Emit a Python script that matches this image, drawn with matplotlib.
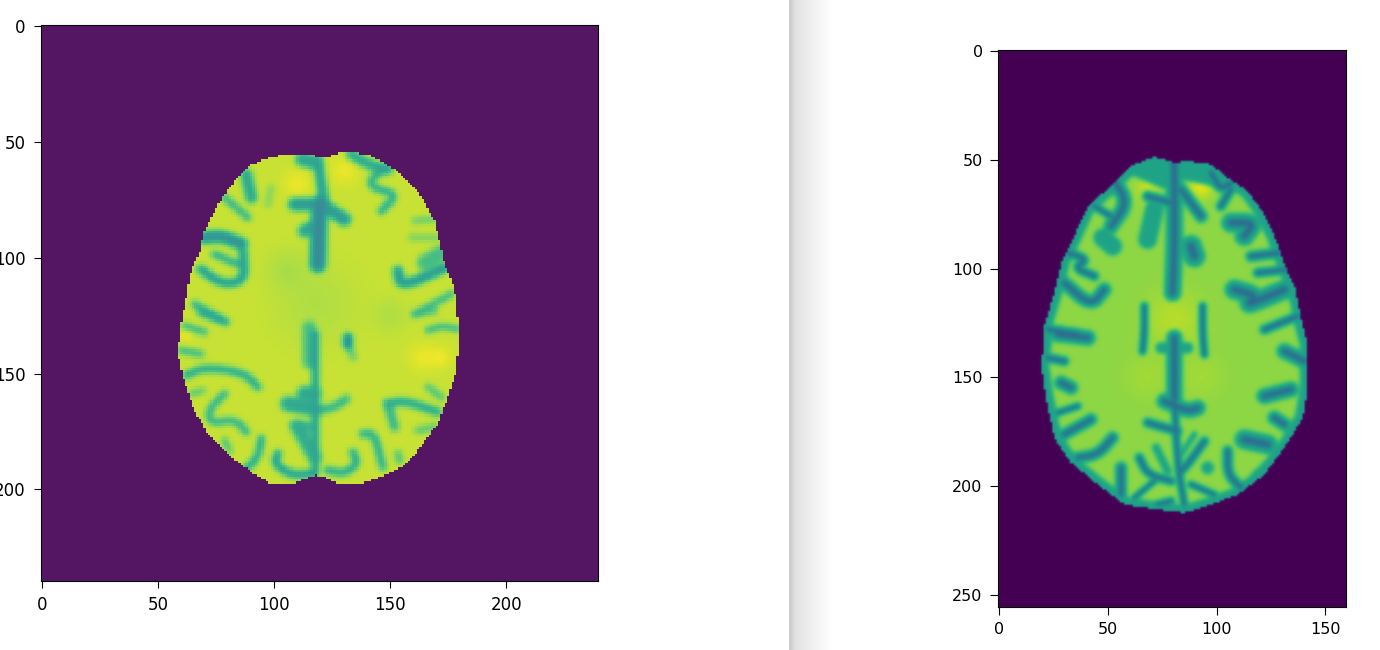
import matplotlib
matplotlib.use("Agg")
import matplotlib.pyplot as plt
import numpy as np
from matplotlib.path import Path

# (col, row)
left_outline = [(121.7, 56.8), (130.3, 53.9), (141.8, 56.1), (153.3, 62.5), (161.9, 71.2), (169.1, 84.1),
                (173.4, 102.8), (177.7, 112.8), (179.2, 127.2), (179.9, 132.9), (178.4, 148.7), (176.3, 155.8),
                (170.5, 171.6), (161.9, 183.1), (154.7, 190.3), (147.6, 193.9), (137.5, 197.5), (127.4, 197.8),
                (121.7, 194.2), (117.4, 193.9), (108, 197.5), (98.7, 197.5), (90.1, 192.5), (81.5, 186),
                (71.4, 176), (64.9, 164.5), (60.6, 151.5), (58.5, 141.5), (59.9, 128.5), (62, 117.1),
                (64.2, 105.6), (67.8, 98.4), (70, 88.4), (75.7, 76.9), (82.9, 66.8), (90.1, 59.7),
                (100.1, 56.1), (110.2, 55.3), (118.8, 56.1)]
right_outline = [(71.4, 48.6), (80.6, 51.4), (86.7, 50.6), (97.5, 52.1), (105.1, 58.3), (114.3, 64.4),
                 (120.4, 72.8), (126.6, 85.1), (132.7, 101.9), (135.8, 108), (139.6, 126.4), (141.9, 134.8),
                 (141.9, 154.7), (139.6, 168.5), (131.2, 182.3), (122, 194.6), (109.7, 203.8), (97.5, 208.4),
                 (85.2, 212.2), (72.9, 210.7), (57.6, 208.4), (45.4, 199.2), (33.1, 189.2), (25.4, 177.7),
                 (21.6, 159.3), (19.3, 144), (20.8, 133.3), (20.8, 126.4), (25.4, 111.1), (29.3, 95.8),
                 (34.6, 85.1), (40.8, 71.3), (51.5, 62.1), (60.7, 52.9)]

# (line through the fold, half width, level)
left_folds = [
    ([(118.8, 58.2), (121.7, 76.9)], 1.7, 0.52), ([(112, 57.5), (118, 59)], 2.5, 0.55),
    ([(119.5, 76.9), (118.8, 102.8)], 3.0, 0.44), ([(108.8, 76.9), (120.3, 76.9), (130.3, 83.4)], 2.3, 0.5),
    ([(113, 88.4), (118.8, 85.5)], 2.3, 0.53),
    ([(90.1, 74), (87.9, 64)], 2.0, 0.55), ([(78.6, 74), (88.6, 82.6)], 0.9, 0.55),
    ([(70, 91.3), (77.2, 90.5), (85.8, 94.1)], 2.2, 0.47), ([(74.3, 98.4), (84.3, 102.8)], 0.9, 0.52),
    ([(68.5, 104.9), (77.2, 111.4), (87.2, 110), (86.5, 98)], 1.3, 0.48), ([(65.7, 120), (77.2, 126.5)], 0.9, 0.52),
    ([(133.2, 55.3), (140.4, 59.7), (149, 61.8)], 1.7, 0.55),
    ([(149, 61), (141.8, 65.4), (141.8, 69.7), (153.3, 72.6), (146.1, 79.8)], 1.0, 0.52),
    ([(160.5, 84), (169, 83.4)], 0.6, 0.66), ([(159, 91.3), (170.5, 91.3)], 0.6, 0.7), ([(97.3, 76.9), (98.7, 69.7)], 1.0, 0.78),
    ([(153.3, 105.6), (154.7, 112.8), (173.4, 104.2)], 1.6, 0.48), ([(165, 102), (172, 98)], 3.0, 0.66),
    ([(160.5, 124.3), (176.3, 115.7)], 0.8, 0.55),
    ([(68.5, 123.5), (79.3, 127.8)], 1.0, 0.5), ([(61.3, 129.3), (70, 132.1)], 0.8, 0.56), ([(59.9, 140), (68.5, 141.5)], 0.8, 0.56),
    ([(62, 150.8), (70, 147.2), (86.5, 149.4), (93, 155.8)], 1.0, 0.5), ([(64.2, 158.7), (69.2, 157.3)], 0.6, 0.62),
    ([(78.6, 158.7), (71.4, 165.9), (72.8, 171.6), (82.9, 169.5), (87.9, 175.2)], 0.9, 0.53),
    ([(78.6, 178.8), (80.7, 183.1)], 0.7, 0.6), ([(94.4, 178.1), (93, 186), (87.9, 191)], 1.0, 0.5),
    ([(101.6, 184.6), (100.1, 188.9), (107.3, 193.9), (115.9, 193.2)], 1.1, 0.46),
    ([(115, 130), (115, 145)], 2.4, 0.66), ([(117.7, 132.9), (117.7, 193.2)], 0.9, 0.42),
    ([(105.9, 163), (117.4, 165.2)], 2.8, 0.56), ([(113, 158.7), (117, 158.7)], 2.8, 0.56),
    ([(118.8, 165.9), (126, 164.5), (131, 160.9)], 1.2, 0.58),
    ([(110.2, 173.1), (117.4, 186)], 2.6, 0.58), ([(108.8, 172.4), (116, 173.1)], 1.6, 0.58),
    ([(133.9, 142.9), (133, 140)], 0.8, 0.66), ([(131.7, 134.5), (131.7, 137.5)], 1.3, 0.34),
    ([(123.1, 191.8), (130.3, 193.2), (136, 188.9), (133.9, 183.9)], 1.0, 0.5),
    ([(138.2, 176), (143.2, 176), (146.8, 190.3)], 1.1, 0.54), ([(153.3, 184.6), (154, 187.5)], 0.9, 0.62),
    ([(149, 163), (156.2, 161.6), (170.5, 166.6)], 1.2, 0.52), ([(149, 163), (151.9, 173.1)], 1.3, 0.58),
    ([(161.9, 174.5), (169.1, 173.1)], 0.9, 0.66), ([(166.2, 155.8), (172, 160.2)], 0.8, 0.62),
    ([(166.2, 131.4), (172, 129.3), (179.2, 130.7)], 0.7, 0.54), ([(161.2, 124.2), (169.1, 122.8)], 0.7, 0.6),
]
left_bright = [(130.3, 62.5, 4), (164, 143, 4), (172, 143, 3), (110, 68, 4), (62, 133, 2)]
left_dim = [(118, 120, 12), (105, 105, 6), (150, 125, 5)]

right_folds = [
    ([(80.6, 51.4), (80.6, 74.3), (80.6, 89.7), (79.8, 111.1)], 4.0, True),
    ([(53, 59.8), (59.1, 69.7), (51.5, 80.5)], 3.5, True), ([(43.8, 71.3), (51.5, 75.9)], 2.0, True),
    ([(71.4, 72.8), (68.3, 86.6)], 4.2, False), ([(68.3, 66.7), (79, 69.7)], 2.6, True),
    ([(88.3, 89.7), (89.8, 94.3)], 5.0, True), ([(83.7, 63.6), (92.9, 75.9)], 3.0, True),
    ([(62, 52), (76, 58)], 5.0, False), ([(84, 55), (98, 58)], 4.0, False),
    ([(47.7, 85.8), (52.2, 89.7)], 4.2, False), ([(31.6, 92.7), (40.8, 95.8), (34.6, 99.6), (43.8, 103.4)], 2.3, True),
    ([(30, 106.5), (42.3, 117.2), (48.4, 109.6)], 3.2, True), ([(22.4, 128), (36.2, 130.3)], 2.6, True),
    ([(97.5, 56), (102, 63.6), (106.6, 60.5)], 2.8, True), ([(102, 71.3), (106.6, 63.6)], 2.3, True),
    ([(106.7, 78.9), (117.4, 78.9), (112.8, 85)], 4.5, True), ([(115.9, 94.3), (129.6, 92.7)], 2.6, True),
    ([(118.9, 101.9), (132.7, 100.4)], 2.3, True), ([(108.2, 109.6), (118.9, 112.6), (112.8, 117.2), (131.2, 109.6)], 4.5, True),
    ([(122, 128), (137.3, 121.8)], 2.3, True),
    ([(66.8, 117.2), (66.8, 129.5), (66, 137.9)], 1.9, True), ([(93.6, 117.2), (93.6, 129.5), (94.4, 139.4)], 1.9, True),
    ([(80.6, 131.8), (80.6, 159.3)], 3.8, True), ([(80.6, 159.3), (82.1, 190), (85.2, 208.4)], 2.0, True),
    ([(74.5, 136.4), (86.7, 136.4)], 2.5, False),
    ([(76, 160.9), (86.7, 165.5), (91.3, 164)], 3.6, True), ([(68.3, 170.8), (82.1, 174.7)], 2.3, True),
    ([(28.5, 152.4), (33.1, 154.7)], 3.2, True), ([(27, 130.2), (40.8, 131.8)], 3.6, True), ([(22.4, 141), (30, 142.5)], 2.3, True),
    ([(27, 166.2), (36.2, 163.2)], 1.8, True), ([(30, 176.2), (42.3, 169.3)], 2.8, True),
    ([(36.2, 186.9), (45.4, 185.4), (52.2, 177.7)], 2.8, True), ([(56.1, 191.5), (56.1, 203.8)], 2.8, True),
    ([(64.5, 186.9), (68.3, 194.6), (79.1, 197.6)], 2.2, True), ([(72.2, 182.3), (77.5, 193)], 1.8, False),
    ([(62.2, 205.3), (71.4, 197.6)], 1.6, True), ([(94.4, 179.3), (86.7, 190), (83.7, 193)], 2.2, True),
    ([(89.8, 176.2), (83.7, 185.4)], 1.3, False), ([(95.9, 191.5), (95.9, 191.6)], 2.8, False),
    ([(105.1, 183.8), (105.1, 194.6), (111.3, 200.7)], 2.5, True), ([(88.3, 199.2), (99, 203.8)], 1.8, True),
    ([(72.9, 208.4), (79.1, 206.8)], 2.0, True), ([(112.8, 178.5), (123.5, 180.8)], 4.5, True),
    ([(126.6, 168.5), (131.2, 171.6)], 3.2, True), ([(122, 158.6), (134.2, 155.5)], 3.6, True),
    ([(131.2, 137.9), (140.4, 142.5)], 3.6, True), ([(118.9, 194.6), (128, 186.9)], 2.3, False),
]
# col, row, spread, strength
right_bright = [(92.9, 62, 3.5, 0.14), (68.3, 63.6, 3.5, 0.09), (80.6, 123.4, 9, 0.06), (68, 150, 7, 0.03), (93, 150, 7, 0.03)]

xticks_left = [0, 50, 100, 150, 200]
yticks_left = [0, 50, 100, 150, 200]
xticks_right = [0, 50, 100, 150]
yticks_right = [0, 50, 100, 150, 200, 250]


def rounded(pts):
    # corner cutting so the folds are not straight sticks
    pts = np.asarray(pts, dtype=float)
    for _ in range(2):
        if len(pts) < 3:
            break
        q = 0.75 * pts[:-1] + 0.25 * pts[1:]
        r = 0.25 * pts[:-1] + 0.75 * pts[1:]
        mid = np.empty((2 * len(q), 2))
        mid[0::2], mid[1::2] = q, r
        pts = np.vstack([pts[:1], mid, pts[-1:]])
    return pts


def line_distance(cc, rr, pts):
    # distance from every pixel to a polyline
    best = np.full(cc.shape, np.inf)
    for (c0, r0), (c1, r1) in zip(pts[:-1], pts[1:]):
        dc, dr = c1 - c0, r1 - r0
        t = ((cc - c0) * dc + (rr - r0) * dr) / (dc * dc + dr * dr)
        t = np.clip(t, 0, 1)
        best = np.minimum(best, np.hypot(cc - c0 - t * dc, rr - r0 - t * dr))
    return best


def mask_of(outline, cc, rr):
    pts = np.column_stack([cc.ravel(), rr.ravel()])
    return Path(outline).contains_points(pts).reshape(cc.shape)


def blob(cc, rr, c, r, s):
    return np.exp(-((cc - c) ** 2 + (rr - r) ** 2) / (2 * s * s))


def soften(img, sigma):
    x = np.arange(-5, 6)
    k = np.exp(-x * x / (2.0 * sigma * sigma))
    k /= k.sum()
    pad = np.pad(img, 5, mode="edge")
    pad = np.apply_along_axis(lambda v: np.convolve(v, k, mode="same"), 0, pad)
    pad = np.apply_along_axis(lambda v: np.convolve(v, k, mode="same"), 1, pad)
    return pad[5:-5, 5:-5]


def left_slice():
    rr, cc = np.mgrid[0:240, 0:240]
    img = 0.91 + 0.0 * cc
    for c, r, s in left_bright:
        img += 0.06 * blob(cc, rr, c, r, s)
    for c, r, s in left_dim:
        img -= 0.04 * blob(cc, rr, c, r, s)
    for pts, w, level in left_folds:
        d = line_distance(cc, rr, rounded(pts))
        t = np.clip((w + 1.6 - d) / 2.6, 0, 1)
        img = np.minimum(img, img * (1 - t) + level * t)
    img = soften(img, 1.1)
    img[~mask_of(left_outline, cc, rr)] = 0
    return img


def right_slice():
    rr, cc = np.mgrid[0:256, 0:160]
    img = 0.83 + 0.0 * cc
    for c, r, s, a in right_bright:
        img += a * blob(cc, rr, c, r, s)
    grey = 0.58
    ring = line_distance(cc, rr, right_outline + right_outline[:1])
    t = np.clip((4.5 - ring) / 2.0, 0, 1)
    img = img * (1 - t) + grey * t
    for pts, w, dark in right_folds:
        d = line_distance(cc, rr, rounded(pts))
        t = np.clip((w + 1.0 - d) / 2.0, 0, 1)
        img = np.minimum(img, img * (1 - t) + grey * t)
    for pts, w, dark in right_folds:
        if dark:
            d = line_distance(cc, rr, rounded(pts))
            core = 0.33 + (grey - 0.33) * np.clip(d / (0.55 * w), 0, 1) ** 1.5
            img = np.where(d < 0.55 * w, np.minimum(img, core), img)
    img = soften(img, 0.7)
    img[~mask_of(right_outline, cc, rr)] = 0
    return soften(img, 0.4)


W, H = 1380, 650
fig = plt.figure(figsize=(W / 100, H / 100), dpi=100)


def place(x0, y0, x1, y1):
    return [x0 / W, 1 - y1 / H, (x1 - x0) / W, (y1 - y0) / H]


# shadow of the notebook panel edge
shade = fig.add_axes(place(789, 0, 835, 650), zorder=0)
shade.imshow(np.array([[0.80, 0.86, 0.89, 0.90, 0.91, 0.92, 0.93, 0.94, 0.95, 0.96, 0.97, 0.98, 0.99, 1.0]]),
             cmap="gray", vmin=0, vmax=1, aspect="auto", interpolation="bilinear")
shade.axis("off")

ax1 = fig.add_axes(place(41, 25, 598, 581), zorder=1)
ax1.imshow(left_slice(), cmap="viridis", vmin=0, vmax=1, alpha=0.92, interpolation="nearest", aspect="auto")
ax1.set_xticks(xticks_left)
ax1.set_yticks(yticks_left)
ax1.tick_params(labelsize=12, length=5, pad=6)

ax2 = fig.add_axes(place(998, 50, 1346, 607), zorder=1)
ax2.imshow(right_slice(), cmap="viridis", vmin=0, vmax=1, interpolation="bilinear", aspect="auto")
ax2.set_xticks(xticks_right)
ax2.set_yticks(yticks_right)
ax2.tick_params(labelsize=11.5, length=5.5, pad=5.5)

fig.savefig("out.png", dpi=100)
